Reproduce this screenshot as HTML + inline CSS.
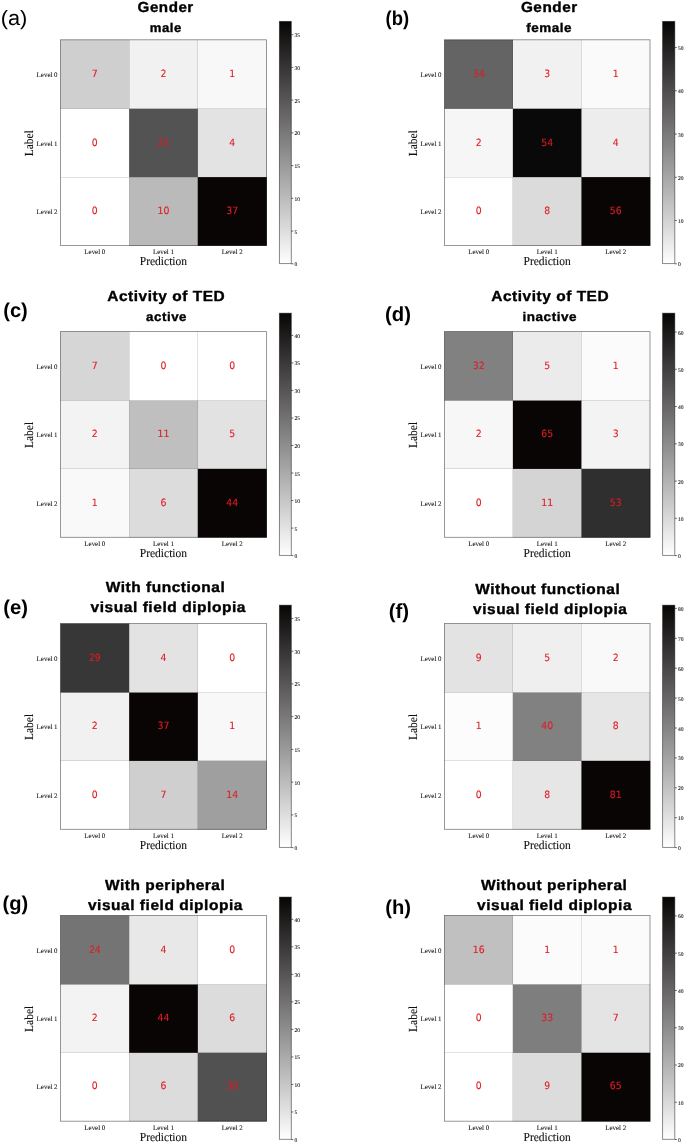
<!DOCTYPE html>
<html lang="en">
<head>
<meta charset="utf-8">
<title>Confusion matrices</title>
<style>
html,body{margin:0;padding:0;background:#fff;}
svg{display:block;}
text{text-rendering:geometricPrecision;}
.tk{font-family:"Liberation Serif", serif;font-size:6.95px;fill:#111;stroke:#111;stroke-width:0.08;}
.ax{font-family:"Liberation Serif", serif;font-size:11.5px;fill:#111;stroke:#111;stroke-width:0.1;}
.cb{font-family:"Liberation Serif", serif;font-size:5.5px;fill:#111;stroke:#111;stroke-width:0.08;}
.an{font-family:"DejaVu Sans", "Liberation Sans", sans-serif;font-size:10.0px;fill:#e01c24;stroke:#e01c24;stroke-width:0.1;text-anchor:middle;}
.tl{font-family:"Liberation Sans", sans-serif;font-weight:700;font-size:14.6px;fill:#000;stroke:#000;stroke-width:0.35;stroke-linejoin:round;letter-spacing:0.5px;}
.ts{font-family:"Liberation Sans", sans-serif;font-weight:700;font-size:12.6px;fill:#000;stroke:#000;stroke-width:0.35;stroke-linejoin:round;letter-spacing:0.5px;}
.pl{font-family:"Liberation Sans", sans-serif;font-weight:700;fill:#000;}
.pr{font-family:"Liberation Sans", sans-serif;font-weight:400;fill:#000;}
</style>
</head>
<body>
<svg width="685" height="1143" viewBox="0 0 685 1143">
<defs><linearGradient id="cbg" x1="0" y1="0" x2="0" y2="1"><stop offset="0" stop-color="#080505"/><stop offset="1" stop-color="#ffffff"/></linearGradient></defs>
<rect x="0" y="0" width="685" height="1143" fill="#ffffff"/>
<g id="panel-a">
<rect x="60.5" y="39.8" width="68.97" height="69.3" fill="#cfcfcf"/>
<rect x="129.17" y="39.8" width="68.97" height="69.3" fill="#f1f1f1"/>
<rect x="197.83" y="39.8" width="68.97" height="69.3" fill="#f8f8f8"/>
<rect x="60.5" y="108.8" width="68.97" height="68.6" fill="#ffffff"/>
<rect x="129.17" y="108.8" width="68.97" height="68.6" fill="#535353"/>
<rect x="197.83" y="108.8" width="68.97" height="68.6" fill="#e3e3e3"/>
<rect x="60.5" y="177.1" width="68.97" height="68.7" fill="#ffffff"/>
<rect x="129.17" y="177.1" width="68.97" height="68.7" fill="#bababa"/>
<rect x="197.83" y="177.1" width="68.97" height="68.7" fill="#0a0505"/>
<line x1="129.5" y1="39.8" x2="129.5" y2="245.5" stroke="#000" stroke-opacity="0.11" stroke-width="1"/>
<line x1="60.5" y1="108.5" x2="266.5" y2="108.5" stroke="#000" stroke-opacity="0.11" stroke-width="1"/>
<line x1="197.5" y1="39.8" x2="197.5" y2="245.5" stroke="#000" stroke-opacity="0.11" stroke-width="1"/>
<line x1="60.5" y1="177.5" x2="266.5" y2="177.5" stroke="#000" stroke-opacity="0.11" stroke-width="1"/>
<rect x="60.5" y="39.8" width="206" height="205.7" fill="none" stroke="#000" stroke-opacity="0.5" stroke-width="0.8"/>
<text class="an" transform="translate(94.83 77.25) scale(0.93 1)">7</text>
<text class="an" transform="translate(163.5 77.25) scale(0.93 1)">2</text>
<text class="an" transform="translate(232.17 77.25) scale(0.93 1)">1</text>
<text class="an" transform="translate(94.83 145.5) scale(0.93 1)">0</text>
<text class="an" transform="translate(163.5 145.5) scale(0.93 1)">25</text>
<text class="an" transform="translate(232.17 145.5) scale(0.93 1)">4</text>
<text class="an" transform="translate(94.83 213.7) scale(0.93 1)">0</text>
<text class="an" transform="translate(163.5 213.7) scale(0.93 1)">10</text>
<text class="an" transform="translate(232.17 213.7) scale(0.93 1)">37</text>
<text class="tk" text-anchor="end" x="57.6" y="77.35">Level 0</text>
<text class="tk" text-anchor="end" x="57.6" y="145.55">Level 1</text>
<text class="tk" text-anchor="end" x="57.6" y="213.7">Level 2</text>
<text class="tk" text-anchor="middle" x="94.83" y="253.9">Level 0</text>
<text class="tk" text-anchor="middle" x="163.5" y="253.9">Level 1</text>
<text class="tk" text-anchor="middle" x="232.17" y="253.9">Level 2</text>
<text class="ax" text-anchor="middle" transform="translate(163.4 265) scale(1 1.06)">Prediction</text>
<text class="ax" text-anchor="middle" transform="translate(32.9 143.2) rotate(-90) scale(1 1.07)">Label</text>
<rect x="279.4" y="21.4" width="11.9" height="242.2" fill="url(#cbg)" stroke="#000" stroke-opacity="0.5" stroke-width="0.9"/>
<line x1="291.3" y1="263.8" x2="293.3" y2="263.8" stroke="#333" stroke-width="0.75"/>
<text class="cb" x="294.6" y="266.3">0</text>
<line x1="291.3" y1="231.07" x2="293.3" y2="231.07" stroke="#333" stroke-width="0.75"/>
<text class="cb" x="294.6" y="233.57">5</text>
<line x1="291.3" y1="198.34" x2="293.3" y2="198.34" stroke="#333" stroke-width="0.75"/>
<text class="cb" x="294.6" y="200.84">10</text>
<line x1="291.3" y1="165.61" x2="293.3" y2="165.61" stroke="#333" stroke-width="0.75"/>
<text class="cb" x="294.6" y="168.11">15</text>
<line x1="291.3" y1="132.88" x2="293.3" y2="132.88" stroke="#333" stroke-width="0.75"/>
<text class="cb" x="294.6" y="135.38">20</text>
<line x1="291.3" y1="100.15" x2="293.3" y2="100.15" stroke="#333" stroke-width="0.75"/>
<text class="cb" x="294.6" y="102.65">25</text>
<line x1="291.3" y1="67.42" x2="293.3" y2="67.42" stroke="#333" stroke-width="0.75"/>
<text class="cb" x="294.6" y="69.92">30</text>
<line x1="291.3" y1="34.69" x2="293.3" y2="34.69" stroke="#333" stroke-width="0.75"/>
<text class="cb" x="294.6" y="37.19">35</text>
<text class="tl" x="137.6" y="11.7" textLength="56.2" lengthAdjust="spacingAndGlyphs">Gender</text>
<text class="ts" x="149.8" y="31.6" textLength="32" lengthAdjust="spacingAndGlyphs">male</text>
<text class="pr" font-size="20.74" x="0.7" y="25.12" textLength="26.6" lengthAdjust="spacingAndGlyphs">(a)</text>
</g>
<g id="panel-b">
<rect x="444.45" y="39.8" width="68.82" height="69.3" fill="#646464"/>
<rect x="512.97" y="39.8" width="68.82" height="69.3" fill="#f1f1f1"/>
<rect x="581.48" y="39.8" width="68.82" height="69.3" fill="#fafafa"/>
<rect x="444.45" y="108.8" width="68.82" height="68.6" fill="#f6f6f6"/>
<rect x="512.97" y="108.8" width="68.82" height="68.6" fill="#090909"/>
<rect x="581.48" y="108.8" width="68.82" height="68.6" fill="#ededed"/>
<rect x="444.45" y="177.1" width="68.82" height="68.7" fill="#ffffff"/>
<rect x="512.97" y="177.1" width="68.82" height="68.7" fill="#dbdbdb"/>
<rect x="581.48" y="177.1" width="68.82" height="68.7" fill="#0a0505"/>
<line x1="512.5" y1="39.8" x2="512.5" y2="245.5" stroke="#000" stroke-opacity="0.11" stroke-width="1"/>
<line x1="444.45" y1="108.5" x2="650" y2="108.5" stroke="#000" stroke-opacity="0.11" stroke-width="1"/>
<line x1="581.5" y1="39.8" x2="581.5" y2="245.5" stroke="#000" stroke-opacity="0.11" stroke-width="1"/>
<line x1="444.45" y1="177.5" x2="650" y2="177.5" stroke="#000" stroke-opacity="0.11" stroke-width="1"/>
<rect x="444.45" y="39.8" width="205.55" height="205.7" fill="none" stroke="#000" stroke-opacity="0.5" stroke-width="0.8"/>
<text class="an" transform="translate(478.71 77.25) scale(0.93 1)">34</text>
<text class="an" transform="translate(547.23 77.25) scale(0.93 1)">3</text>
<text class="an" transform="translate(615.74 77.25) scale(0.93 1)">1</text>
<text class="an" transform="translate(478.71 145.5) scale(0.93 1)">2</text>
<text class="an" transform="translate(547.23 145.5) scale(0.93 1)">54</text>
<text class="an" transform="translate(615.74 145.5) scale(0.93 1)">4</text>
<text class="an" transform="translate(478.71 213.7) scale(0.93 1)">0</text>
<text class="an" transform="translate(547.23 213.7) scale(0.93 1)">8</text>
<text class="an" transform="translate(615.74 213.7) scale(0.93 1)">56</text>
<text class="tk" text-anchor="end" x="441.55" y="77.35">Level 0</text>
<text class="tk" text-anchor="end" x="441.55" y="145.55">Level 1</text>
<text class="tk" text-anchor="end" x="441.55" y="213.7">Level 2</text>
<text class="tk" text-anchor="middle" x="478.71" y="253.9">Level 0</text>
<text class="tk" text-anchor="middle" x="547.23" y="253.9">Level 1</text>
<text class="tk" text-anchor="middle" x="615.74" y="253.9">Level 2</text>
<text class="ax" text-anchor="middle" transform="translate(547.12 265) scale(1 1.06)">Prediction</text>
<text class="ax" text-anchor="middle" transform="translate(416.85 143.2) rotate(-90) scale(1 1.07)">Label</text>
<rect x="662.6" y="21.4" width="12.2" height="242.2" fill="url(#cbg)" stroke="#000" stroke-opacity="0.5" stroke-width="0.9"/>
<line x1="674.8" y1="263.8" x2="676.8" y2="263.8" stroke="#333" stroke-width="0.75"/>
<text class="cb" x="678.1" y="266.3">0</text>
<line x1="674.8" y1="220.55" x2="676.8" y2="220.55" stroke="#333" stroke-width="0.75"/>
<text class="cb" x="678.1" y="223.05">10</text>
<line x1="674.8" y1="177.3" x2="676.8" y2="177.3" stroke="#333" stroke-width="0.75"/>
<text class="cb" x="678.1" y="179.8">20</text>
<line x1="674.8" y1="134.05" x2="676.8" y2="134.05" stroke="#333" stroke-width="0.75"/>
<text class="cb" x="678.1" y="136.55">30</text>
<line x1="674.8" y1="90.8" x2="676.8" y2="90.8" stroke="#333" stroke-width="0.75"/>
<text class="cb" x="678.1" y="93.3">40</text>
<line x1="674.8" y1="47.55" x2="676.8" y2="47.55" stroke="#333" stroke-width="0.75"/>
<text class="cb" x="678.1" y="50.05">50</text>
<text class="tl" x="520.9" y="11.5" textLength="56.8" lengthAdjust="spacingAndGlyphs">Gender</text>
<text class="ts" x="526.2" y="32" textLength="45.8" lengthAdjust="spacingAndGlyphs">female</text>
<text class="pl" font-size="19.89" x="385.5" y="25" textLength="23.6" lengthAdjust="spacingAndGlyphs">(b)</text>
</g>
<g id="panel-c">
<rect x="60.5" y="331.6" width="68.97" height="69.3" fill="#d6d6d6"/>
<rect x="129.17" y="331.6" width="68.97" height="69.3" fill="#ffffff"/>
<rect x="197.83" y="331.6" width="68.97" height="69.3" fill="#ffffff"/>
<rect x="60.5" y="400.6" width="68.97" height="68.6" fill="#f3f3f3"/>
<rect x="129.17" y="400.6" width="68.97" height="68.6" fill="#bfbfbf"/>
<rect x="197.83" y="400.6" width="68.97" height="68.6" fill="#e2e2e2"/>
<rect x="60.5" y="468.9" width="68.97" height="68.7" fill="#f9f9f9"/>
<rect x="129.17" y="468.9" width="68.97" height="68.7" fill="#dcdcdc"/>
<rect x="197.83" y="468.9" width="68.97" height="68.7" fill="#0a0505"/>
<line x1="129.5" y1="331.6" x2="129.5" y2="537.3" stroke="#000" stroke-opacity="0.11" stroke-width="1"/>
<line x1="60.5" y1="400.5" x2="266.5" y2="400.5" stroke="#000" stroke-opacity="0.11" stroke-width="1"/>
<line x1="197.5" y1="331.6" x2="197.5" y2="537.3" stroke="#000" stroke-opacity="0.11" stroke-width="1"/>
<line x1="60.5" y1="468.5" x2="266.5" y2="468.5" stroke="#000" stroke-opacity="0.11" stroke-width="1"/>
<rect x="60.5" y="331.6" width="206" height="205.7" fill="none" stroke="#000" stroke-opacity="0.5" stroke-width="0.8"/>
<text class="an" transform="translate(94.83 369.05) scale(0.93 1)">7</text>
<text class="an" transform="translate(163.5 369.05) scale(0.93 1)">0</text>
<text class="an" transform="translate(232.17 369.05) scale(0.93 1)">0</text>
<text class="an" transform="translate(94.83 437.3) scale(0.93 1)">2</text>
<text class="an" transform="translate(163.5 437.3) scale(0.93 1)">11</text>
<text class="an" transform="translate(232.17 437.3) scale(0.93 1)">5</text>
<text class="an" transform="translate(94.83 505.5) scale(0.93 1)">1</text>
<text class="an" transform="translate(163.5 505.5) scale(0.93 1)">6</text>
<text class="an" transform="translate(232.17 505.5) scale(0.93 1)">44</text>
<text class="tk" text-anchor="end" x="57.6" y="369.15">Level 0</text>
<text class="tk" text-anchor="end" x="57.6" y="437.35">Level 1</text>
<text class="tk" text-anchor="end" x="57.6" y="505.5">Level 2</text>
<text class="tk" text-anchor="middle" x="94.83" y="545.7">Level 0</text>
<text class="tk" text-anchor="middle" x="163.5" y="545.7">Level 1</text>
<text class="tk" text-anchor="middle" x="232.17" y="545.7">Level 2</text>
<text class="ax" text-anchor="middle" transform="translate(163.4 556.8) scale(1 1.06)">Prediction</text>
<text class="ax" text-anchor="middle" transform="translate(32.9 435) rotate(-90) scale(1 1.07)">Label</text>
<rect x="279.4" y="313.2" width="11.9" height="242.2" fill="url(#cbg)" stroke="#000" stroke-opacity="0.5" stroke-width="0.9"/>
<line x1="291.3" y1="555.6" x2="293.3" y2="555.6" stroke="#333" stroke-width="0.75"/>
<text class="cb" x="294.6" y="558.1">0</text>
<line x1="291.3" y1="528.08" x2="293.3" y2="528.08" stroke="#333" stroke-width="0.75"/>
<text class="cb" x="294.6" y="530.58">5</text>
<line x1="291.3" y1="500.55" x2="293.3" y2="500.55" stroke="#333" stroke-width="0.75"/>
<text class="cb" x="294.6" y="503.05">10</text>
<line x1="291.3" y1="473.03" x2="293.3" y2="473.03" stroke="#333" stroke-width="0.75"/>
<text class="cb" x="294.6" y="475.53">15</text>
<line x1="291.3" y1="445.51" x2="293.3" y2="445.51" stroke="#333" stroke-width="0.75"/>
<text class="cb" x="294.6" y="448.01">20</text>
<line x1="291.3" y1="417.99" x2="293.3" y2="417.99" stroke="#333" stroke-width="0.75"/>
<text class="cb" x="294.6" y="420.49">25</text>
<line x1="291.3" y1="390.46" x2="293.3" y2="390.46" stroke="#333" stroke-width="0.75"/>
<text class="cb" x="294.6" y="392.96">30</text>
<line x1="291.3" y1="362.94" x2="293.3" y2="362.94" stroke="#333" stroke-width="0.75"/>
<text class="cb" x="294.6" y="365.44">35</text>
<line x1="291.3" y1="335.42" x2="293.3" y2="335.42" stroke="#333" stroke-width="0.75"/>
<text class="cb" x="294.6" y="337.92">40</text>
<text class="tl" x="107.3" y="300.8" textLength="117.9" lengthAdjust="spacingAndGlyphs">Activity of TED</text>
<text class="ts" x="146.1" y="320.9" textLength="40.9" lengthAdjust="spacingAndGlyphs">active</text>
<text class="pl" font-size="19.89" x="3.2" y="317.3" textLength="24.6" lengthAdjust="spacingAndGlyphs">(c)</text>
</g>
<g id="panel-d">
<rect x="444.45" y="331.6" width="68.82" height="69.3" fill="#818181"/>
<rect x="512.97" y="331.6" width="68.82" height="69.3" fill="#ebebeb"/>
<rect x="581.48" y="331.6" width="68.82" height="69.3" fill="#fbfbfb"/>
<rect x="444.45" y="400.6" width="68.82" height="68.6" fill="#f7f7f7"/>
<rect x="512.97" y="400.6" width="68.82" height="68.6" fill="#0a0505"/>
<rect x="581.48" y="400.6" width="68.82" height="68.6" fill="#f3f3f3"/>
<rect x="444.45" y="468.9" width="68.82" height="68.7" fill="#ffffff"/>
<rect x="512.97" y="468.9" width="68.82" height="68.7" fill="#d4d4d4"/>
<rect x="581.48" y="468.9" width="68.82" height="68.7" fill="#2f2f2f"/>
<line x1="512.5" y1="331.6" x2="512.5" y2="537.3" stroke="#000" stroke-opacity="0.11" stroke-width="1"/>
<line x1="444.45" y1="400.5" x2="650" y2="400.5" stroke="#000" stroke-opacity="0.11" stroke-width="1"/>
<line x1="581.5" y1="331.6" x2="581.5" y2="537.3" stroke="#000" stroke-opacity="0.11" stroke-width="1"/>
<line x1="444.45" y1="468.5" x2="650" y2="468.5" stroke="#000" stroke-opacity="0.11" stroke-width="1"/>
<rect x="444.45" y="331.6" width="205.55" height="205.7" fill="none" stroke="#000" stroke-opacity="0.5" stroke-width="0.8"/>
<text class="an" transform="translate(478.71 369.05) scale(0.93 1)">32</text>
<text class="an" transform="translate(547.23 369.05) scale(0.93 1)">5</text>
<text class="an" transform="translate(615.74 369.05) scale(0.93 1)">1</text>
<text class="an" transform="translate(478.71 437.3) scale(0.93 1)">2</text>
<text class="an" transform="translate(547.23 437.3) scale(0.93 1)">65</text>
<text class="an" transform="translate(615.74 437.3) scale(0.93 1)">3</text>
<text class="an" transform="translate(478.71 505.5) scale(0.93 1)">0</text>
<text class="an" transform="translate(547.23 505.5) scale(0.93 1)">11</text>
<text class="an" transform="translate(615.74 505.5) scale(0.93 1)">53</text>
<text class="tk" text-anchor="end" x="441.55" y="369.15">Level 0</text>
<text class="tk" text-anchor="end" x="441.55" y="437.35">Level 1</text>
<text class="tk" text-anchor="end" x="441.55" y="505.5">Level 2</text>
<text class="tk" text-anchor="middle" x="478.71" y="545.7">Level 0</text>
<text class="tk" text-anchor="middle" x="547.23" y="545.7">Level 1</text>
<text class="tk" text-anchor="middle" x="615.74" y="545.7">Level 2</text>
<text class="ax" text-anchor="middle" transform="translate(547.12 556.8) scale(1 1.06)">Prediction</text>
<text class="ax" text-anchor="middle" transform="translate(416.85 435) rotate(-90) scale(1 1.07)">Label</text>
<rect x="662.6" y="313.2" width="12.2" height="242.2" fill="url(#cbg)" stroke="#000" stroke-opacity="0.5" stroke-width="0.9"/>
<line x1="674.8" y1="555.6" x2="676.8" y2="555.6" stroke="#333" stroke-width="0.75"/>
<text class="cb" x="678.1" y="558.1">0</text>
<line x1="674.8" y1="518.34" x2="676.8" y2="518.34" stroke="#333" stroke-width="0.75"/>
<text class="cb" x="678.1" y="520.84">10</text>
<line x1="674.8" y1="481.08" x2="676.8" y2="481.08" stroke="#333" stroke-width="0.75"/>
<text class="cb" x="678.1" y="483.58">20</text>
<line x1="674.8" y1="443.82" x2="676.8" y2="443.82" stroke="#333" stroke-width="0.75"/>
<text class="cb" x="678.1" y="446.32">30</text>
<line x1="674.8" y1="406.55" x2="676.8" y2="406.55" stroke="#333" stroke-width="0.75"/>
<text class="cb" x="678.1" y="409.05">40</text>
<line x1="674.8" y1="369.29" x2="676.8" y2="369.29" stroke="#333" stroke-width="0.75"/>
<text class="cb" x="678.1" y="371.79">50</text>
<line x1="674.8" y1="332.03" x2="676.8" y2="332.03" stroke="#333" stroke-width="0.75"/>
<text class="cb" x="678.1" y="334.53">60</text>
<text class="tl" x="491.2" y="300.8" textLength="118" lengthAdjust="spacingAndGlyphs">Activity of TED</text>
<text class="ts" x="522.5" y="320.9" textLength="54.6" lengthAdjust="spacingAndGlyphs">inactive</text>
<text class="pl" font-size="20.32" x="385.1" y="321.21" textLength="25.9" lengthAdjust="spacingAndGlyphs">(d)</text>
</g>
<g id="panel-e">
<rect x="60.5" y="623.6" width="68.97" height="69.3" fill="#373737"/>
<rect x="129.17" y="623.6" width="68.97" height="69.3" fill="#e3e3e3"/>
<rect x="197.83" y="623.6" width="68.97" height="69.3" fill="#ffffff"/>
<rect x="60.5" y="692.6" width="68.97" height="68.6" fill="#f1f1f1"/>
<rect x="129.17" y="692.6" width="68.97" height="68.6" fill="#0a0505"/>
<rect x="197.83" y="692.6" width="68.97" height="68.6" fill="#f8f8f8"/>
<rect x="60.5" y="760.9" width="68.97" height="68.7" fill="#ffffff"/>
<rect x="129.17" y="760.9" width="68.97" height="68.7" fill="#cfcfcf"/>
<rect x="197.83" y="760.9" width="68.97" height="68.7" fill="#9f9f9f"/>
<line x1="129.5" y1="623.6" x2="129.5" y2="829.3" stroke="#000" stroke-opacity="0.11" stroke-width="1"/>
<line x1="60.5" y1="692.5" x2="266.5" y2="692.5" stroke="#000" stroke-opacity="0.11" stroke-width="1"/>
<line x1="197.5" y1="623.6" x2="197.5" y2="829.3" stroke="#000" stroke-opacity="0.11" stroke-width="1"/>
<line x1="60.5" y1="760.5" x2="266.5" y2="760.5" stroke="#000" stroke-opacity="0.11" stroke-width="1"/>
<rect x="60.5" y="623.6" width="206" height="205.7" fill="none" stroke="#000" stroke-opacity="0.5" stroke-width="0.8"/>
<text class="an" transform="translate(94.83 661.05) scale(0.93 1)">29</text>
<text class="an" transform="translate(163.5 661.05) scale(0.93 1)">4</text>
<text class="an" transform="translate(232.17 661.05) scale(0.93 1)">0</text>
<text class="an" transform="translate(94.83 729.3) scale(0.93 1)">2</text>
<text class="an" transform="translate(163.5 729.3) scale(0.93 1)">37</text>
<text class="an" transform="translate(232.17 729.3) scale(0.93 1)">1</text>
<text class="an" transform="translate(94.83 797.5) scale(0.93 1)">0</text>
<text class="an" transform="translate(163.5 797.5) scale(0.93 1)">7</text>
<text class="an" transform="translate(232.17 797.5) scale(0.93 1)">14</text>
<text class="tk" text-anchor="end" x="57.6" y="661.15">Level 0</text>
<text class="tk" text-anchor="end" x="57.6" y="729.35">Level 1</text>
<text class="tk" text-anchor="end" x="57.6" y="797.5">Level 2</text>
<text class="tk" text-anchor="middle" x="94.83" y="837.7">Level 0</text>
<text class="tk" text-anchor="middle" x="163.5" y="837.7">Level 1</text>
<text class="tk" text-anchor="middle" x="232.17" y="837.7">Level 2</text>
<text class="ax" text-anchor="middle" transform="translate(163.4 848.8) scale(1 1.06)">Prediction</text>
<text class="ax" text-anchor="middle" transform="translate(32.9 727) rotate(-90) scale(1 1.07)">Label</text>
<rect x="279.4" y="605.2" width="11.9" height="242.2" fill="url(#cbg)" stroke="#000" stroke-opacity="0.5" stroke-width="0.9"/>
<line x1="291.3" y1="847.6" x2="293.3" y2="847.6" stroke="#333" stroke-width="0.75"/>
<text class="cb" x="294.6" y="850.1">0</text>
<line x1="291.3" y1="814.87" x2="293.3" y2="814.87" stroke="#333" stroke-width="0.75"/>
<text class="cb" x="294.6" y="817.37">5</text>
<line x1="291.3" y1="782.14" x2="293.3" y2="782.14" stroke="#333" stroke-width="0.75"/>
<text class="cb" x="294.6" y="784.64">10</text>
<line x1="291.3" y1="749.41" x2="293.3" y2="749.41" stroke="#333" stroke-width="0.75"/>
<text class="cb" x="294.6" y="751.91">15</text>
<line x1="291.3" y1="716.68" x2="293.3" y2="716.68" stroke="#333" stroke-width="0.75"/>
<text class="cb" x="294.6" y="719.18">20</text>
<line x1="291.3" y1="683.95" x2="293.3" y2="683.95" stroke="#333" stroke-width="0.75"/>
<text class="cb" x="294.6" y="686.45">25</text>
<line x1="291.3" y1="651.22" x2="293.3" y2="651.22" stroke="#333" stroke-width="0.75"/>
<text class="cb" x="294.6" y="653.72">30</text>
<line x1="291.3" y1="618.49" x2="293.3" y2="618.49" stroke="#333" stroke-width="0.75"/>
<text class="cb" x="294.6" y="620.99">35</text>
<text class="tl" x="105.7" y="592.4" textLength="119.6" lengthAdjust="spacingAndGlyphs">With functional</text>
<text class="tl" x="90.5" y="611.9" textLength="155.5" lengthAdjust="spacingAndGlyphs">visual field diplopia</text>
<text class="pl" font-size="20.11" x="3.2" y="613.96" textLength="24.8" lengthAdjust="spacingAndGlyphs">(e)</text>
</g>
<g id="panel-f">
<rect x="444.45" y="623.6" width="68.82" height="69.3" fill="#e3e3e3"/>
<rect x="512.97" y="623.6" width="68.82" height="69.3" fill="#efefef"/>
<rect x="581.48" y="623.6" width="68.82" height="69.3" fill="#f9f9f9"/>
<rect x="444.45" y="692.6" width="68.82" height="68.6" fill="#fcfcfc"/>
<rect x="512.97" y="692.6" width="68.82" height="68.6" fill="#818181"/>
<rect x="581.48" y="692.6" width="68.82" height="68.6" fill="#e6e6e6"/>
<rect x="444.45" y="760.9" width="68.82" height="68.7" fill="#ffffff"/>
<rect x="512.97" y="760.9" width="68.82" height="68.7" fill="#e6e6e6"/>
<rect x="581.48" y="760.9" width="68.82" height="68.7" fill="#0a0505"/>
<line x1="512.5" y1="623.6" x2="512.5" y2="829.3" stroke="#000" stroke-opacity="0.11" stroke-width="1"/>
<line x1="444.45" y1="692.5" x2="650" y2="692.5" stroke="#000" stroke-opacity="0.11" stroke-width="1"/>
<line x1="581.5" y1="623.6" x2="581.5" y2="829.3" stroke="#000" stroke-opacity="0.11" stroke-width="1"/>
<line x1="444.45" y1="760.5" x2="650" y2="760.5" stroke="#000" stroke-opacity="0.11" stroke-width="1"/>
<rect x="444.45" y="623.6" width="205.55" height="205.7" fill="none" stroke="#000" stroke-opacity="0.5" stroke-width="0.8"/>
<text class="an" transform="translate(478.71 661.05) scale(0.93 1)">9</text>
<text class="an" transform="translate(547.23 661.05) scale(0.93 1)">5</text>
<text class="an" transform="translate(615.74 661.05) scale(0.93 1)">2</text>
<text class="an" transform="translate(478.71 729.3) scale(0.93 1)">1</text>
<text class="an" transform="translate(547.23 729.3) scale(0.93 1)">40</text>
<text class="an" transform="translate(615.74 729.3) scale(0.93 1)">8</text>
<text class="an" transform="translate(478.71 797.5) scale(0.93 1)">0</text>
<text class="an" transform="translate(547.23 797.5) scale(0.93 1)">8</text>
<text class="an" transform="translate(615.74 797.5) scale(0.93 1)">81</text>
<text class="tk" text-anchor="end" x="441.55" y="661.15">Level 0</text>
<text class="tk" text-anchor="end" x="441.55" y="729.35">Level 1</text>
<text class="tk" text-anchor="end" x="441.55" y="797.5">Level 2</text>
<text class="tk" text-anchor="middle" x="478.71" y="837.7">Level 0</text>
<text class="tk" text-anchor="middle" x="547.23" y="837.7">Level 1</text>
<text class="tk" text-anchor="middle" x="615.74" y="837.7">Level 2</text>
<text class="ax" text-anchor="middle" transform="translate(547.12 848.8) scale(1 1.06)">Prediction</text>
<text class="ax" text-anchor="middle" transform="translate(416.85 727) rotate(-90) scale(1 1.07)">Label</text>
<rect x="662.6" y="605.2" width="12.2" height="242.2" fill="url(#cbg)" stroke="#000" stroke-opacity="0.5" stroke-width="0.9"/>
<line x1="674.8" y1="847.6" x2="676.8" y2="847.6" stroke="#333" stroke-width="0.75"/>
<text class="cb" x="678.1" y="850.1">0</text>
<line x1="674.8" y1="817.7" x2="676.8" y2="817.7" stroke="#333" stroke-width="0.75"/>
<text class="cb" x="678.1" y="820.2">10</text>
<line x1="674.8" y1="787.8" x2="676.8" y2="787.8" stroke="#333" stroke-width="0.75"/>
<text class="cb" x="678.1" y="790.3">20</text>
<line x1="674.8" y1="757.9" x2="676.8" y2="757.9" stroke="#333" stroke-width="0.75"/>
<text class="cb" x="678.1" y="760.4">30</text>
<line x1="674.8" y1="728" x2="676.8" y2="728" stroke="#333" stroke-width="0.75"/>
<text class="cb" x="678.1" y="730.5">40</text>
<line x1="674.8" y1="698.09" x2="676.8" y2="698.09" stroke="#333" stroke-width="0.75"/>
<text class="cb" x="678.1" y="700.59">50</text>
<line x1="674.8" y1="668.19" x2="676.8" y2="668.19" stroke="#333" stroke-width="0.75"/>
<text class="cb" x="678.1" y="670.69">60</text>
<line x1="674.8" y1="638.29" x2="676.8" y2="638.29" stroke="#333" stroke-width="0.75"/>
<text class="cb" x="678.1" y="640.79">70</text>
<line x1="674.8" y1="608.39" x2="676.8" y2="608.39" stroke="#333" stroke-width="0.75"/>
<text class="cb" x="678.1" y="610.89">80</text>
<text class="tl" x="475.2" y="594" textLength="145.1" lengthAdjust="spacingAndGlyphs">Without functional</text>
<text class="tl" x="473.1" y="613.7" textLength="154.3" lengthAdjust="spacingAndGlyphs">visual field diplopia</text>
<text class="pl" font-size="20.43" x="388.7" y="617.99" textLength="20.4" lengthAdjust="spacingAndGlyphs">(f)</text>
</g>
<g id="panel-g">
<rect x="60.5" y="915.5" width="68.97" height="69.3" fill="#747474"/>
<rect x="129.17" y="915.5" width="68.97" height="69.3" fill="#e8e8e8"/>
<rect x="197.83" y="915.5" width="68.97" height="69.3" fill="#ffffff"/>
<rect x="60.5" y="984.5" width="68.97" height="68.6" fill="#f3f3f3"/>
<rect x="129.17" y="984.5" width="68.97" height="68.6" fill="#0a0505"/>
<rect x="197.83" y="984.5" width="68.97" height="68.6" fill="#dcdcdc"/>
<rect x="60.5" y="1052.8" width="68.97" height="68.7" fill="#ffffff"/>
<rect x="129.17" y="1052.8" width="68.97" height="68.7" fill="#dcdcdc"/>
<rect x="197.83" y="1052.8" width="68.97" height="68.7" fill="#515151"/>
<line x1="129.5" y1="915.5" x2="129.5" y2="1121.2" stroke="#000" stroke-opacity="0.11" stroke-width="1"/>
<line x1="60.5" y1="984.5" x2="266.5" y2="984.5" stroke="#000" stroke-opacity="0.11" stroke-width="1"/>
<line x1="197.5" y1="915.5" x2="197.5" y2="1121.2" stroke="#000" stroke-opacity="0.11" stroke-width="1"/>
<line x1="60.5" y1="1052.5" x2="266.5" y2="1052.5" stroke="#000" stroke-opacity="0.11" stroke-width="1"/>
<rect x="60.5" y="915.5" width="206" height="205.7" fill="none" stroke="#000" stroke-opacity="0.5" stroke-width="0.8"/>
<text class="an" transform="translate(94.83 952.95) scale(0.93 1)">24</text>
<text class="an" transform="translate(163.5 952.95) scale(0.93 1)">4</text>
<text class="an" transform="translate(232.17 952.95) scale(0.93 1)">0</text>
<text class="an" transform="translate(94.83 1021.2) scale(0.93 1)">2</text>
<text class="an" transform="translate(163.5 1021.2) scale(0.93 1)">44</text>
<text class="an" transform="translate(232.17 1021.2) scale(0.93 1)">6</text>
<text class="an" transform="translate(94.83 1089.4) scale(0.93 1)">0</text>
<text class="an" transform="translate(163.5 1089.4) scale(0.93 1)">6</text>
<text class="an" transform="translate(232.17 1089.4) scale(0.93 1)">30</text>
<text class="tk" text-anchor="end" x="57.6" y="953.05">Level 0</text>
<text class="tk" text-anchor="end" x="57.6" y="1021.25">Level 1</text>
<text class="tk" text-anchor="end" x="57.6" y="1089.4">Level 2</text>
<text class="tk" text-anchor="middle" x="94.83" y="1129.6">Level 0</text>
<text class="tk" text-anchor="middle" x="163.5" y="1129.6">Level 1</text>
<text class="tk" text-anchor="middle" x="232.17" y="1129.6">Level 2</text>
<text class="ax" text-anchor="middle" transform="translate(163.4 1140.7) scale(1 1.06)">Prediction</text>
<text class="ax" text-anchor="middle" transform="translate(32.9 1018.9) rotate(-90) scale(1 1.07)">Label</text>
<rect x="279.4" y="897.1" width="11.9" height="242.2" fill="url(#cbg)" stroke="#000" stroke-opacity="0.5" stroke-width="0.9"/>
<line x1="291.3" y1="1139.5" x2="293.3" y2="1139.5" stroke="#333" stroke-width="0.75"/>
<text class="cb" x="294.6" y="1142">0</text>
<line x1="291.3" y1="1111.98" x2="293.3" y2="1111.98" stroke="#333" stroke-width="0.75"/>
<text class="cb" x="294.6" y="1114.48">5</text>
<line x1="291.3" y1="1084.45" x2="293.3" y2="1084.45" stroke="#333" stroke-width="0.75"/>
<text class="cb" x="294.6" y="1086.95">10</text>
<line x1="291.3" y1="1056.93" x2="293.3" y2="1056.93" stroke="#333" stroke-width="0.75"/>
<text class="cb" x="294.6" y="1059.43">15</text>
<line x1="291.3" y1="1029.41" x2="293.3" y2="1029.41" stroke="#333" stroke-width="0.75"/>
<text class="cb" x="294.6" y="1031.91">20</text>
<line x1="291.3" y1="1001.89" x2="293.3" y2="1001.89" stroke="#333" stroke-width="0.75"/>
<text class="cb" x="294.6" y="1004.39">25</text>
<line x1="291.3" y1="974.36" x2="293.3" y2="974.36" stroke="#333" stroke-width="0.75"/>
<text class="cb" x="294.6" y="976.86">30</text>
<line x1="291.3" y1="946.84" x2="293.3" y2="946.84" stroke="#333" stroke-width="0.75"/>
<text class="cb" x="294.6" y="949.34">35</text>
<line x1="291.3" y1="919.32" x2="293.3" y2="919.32" stroke="#333" stroke-width="0.75"/>
<text class="cb" x="294.6" y="921.82">40</text>
<text class="tl" x="105" y="890.1" textLength="120.3" lengthAdjust="spacingAndGlyphs">With peripheral</text>
<text class="tl" x="87.9" y="910" textLength="155" lengthAdjust="spacingAndGlyphs">visual field diplopia</text>
<text class="pl" font-size="19.89" x="2.6" y="910" textLength="25.7" lengthAdjust="spacingAndGlyphs">(g)</text>
</g>
<g id="panel-h">
<rect x="444.45" y="915.5" width="68.82" height="69.3" fill="#c0c0c0"/>
<rect x="512.97" y="915.5" width="68.82" height="69.3" fill="#fbfbfb"/>
<rect x="581.48" y="915.5" width="68.82" height="69.3" fill="#fbfbfb"/>
<rect x="444.45" y="984.5" width="68.82" height="68.6" fill="#ffffff"/>
<rect x="512.97" y="984.5" width="68.82" height="68.6" fill="#7e7e7e"/>
<rect x="581.48" y="984.5" width="68.82" height="68.6" fill="#e4e4e4"/>
<rect x="444.45" y="1052.8" width="68.82" height="68.7" fill="#ffffff"/>
<rect x="512.97" y="1052.8" width="68.82" height="68.7" fill="#dcdcdc"/>
<rect x="581.48" y="1052.8" width="68.82" height="68.7" fill="#0a0505"/>
<line x1="512.5" y1="915.5" x2="512.5" y2="1121.2" stroke="#000" stroke-opacity="0.11" stroke-width="1"/>
<line x1="444.45" y1="984.5" x2="650" y2="984.5" stroke="#000" stroke-opacity="0.11" stroke-width="1"/>
<line x1="581.5" y1="915.5" x2="581.5" y2="1121.2" stroke="#000" stroke-opacity="0.11" stroke-width="1"/>
<line x1="444.45" y1="1052.5" x2="650" y2="1052.5" stroke="#000" stroke-opacity="0.11" stroke-width="1"/>
<rect x="444.45" y="915.5" width="205.55" height="205.7" fill="none" stroke="#000" stroke-opacity="0.5" stroke-width="0.8"/>
<text class="an" transform="translate(478.71 952.95) scale(0.93 1)">16</text>
<text class="an" transform="translate(547.23 952.95) scale(0.93 1)">1</text>
<text class="an" transform="translate(615.74 952.95) scale(0.93 1)">1</text>
<text class="an" transform="translate(478.71 1021.2) scale(0.93 1)">0</text>
<text class="an" transform="translate(547.23 1021.2) scale(0.93 1)">33</text>
<text class="an" transform="translate(615.74 1021.2) scale(0.93 1)">7</text>
<text class="an" transform="translate(478.71 1089.4) scale(0.93 1)">0</text>
<text class="an" transform="translate(547.23 1089.4) scale(0.93 1)">9</text>
<text class="an" transform="translate(615.74 1089.4) scale(0.93 1)">65</text>
<text class="tk" text-anchor="end" x="441.55" y="953.05">Level 0</text>
<text class="tk" text-anchor="end" x="441.55" y="1021.25">Level 1</text>
<text class="tk" text-anchor="end" x="441.55" y="1089.4">Level 2</text>
<text class="tk" text-anchor="middle" x="478.71" y="1129.6">Level 0</text>
<text class="tk" text-anchor="middle" x="547.23" y="1129.6">Level 1</text>
<text class="tk" text-anchor="middle" x="615.74" y="1129.6">Level 2</text>
<text class="ax" text-anchor="middle" transform="translate(547.12 1140.7) scale(1 1.06)">Prediction</text>
<text class="ax" text-anchor="middle" transform="translate(416.85 1018.9) rotate(-90) scale(1 1.07)">Label</text>
<rect x="662.6" y="897.1" width="12.2" height="242.2" fill="url(#cbg)" stroke="#000" stroke-opacity="0.5" stroke-width="0.9"/>
<line x1="674.8" y1="1139.5" x2="676.8" y2="1139.5" stroke="#333" stroke-width="0.75"/>
<text class="cb" x="678.1" y="1142">0</text>
<line x1="674.8" y1="1102.24" x2="676.8" y2="1102.24" stroke="#333" stroke-width="0.75"/>
<text class="cb" x="678.1" y="1104.74">10</text>
<line x1="674.8" y1="1064.98" x2="676.8" y2="1064.98" stroke="#333" stroke-width="0.75"/>
<text class="cb" x="678.1" y="1067.48">20</text>
<line x1="674.8" y1="1027.72" x2="676.8" y2="1027.72" stroke="#333" stroke-width="0.75"/>
<text class="cb" x="678.1" y="1030.22">30</text>
<line x1="674.8" y1="990.45" x2="676.8" y2="990.45" stroke="#333" stroke-width="0.75"/>
<text class="cb" x="678.1" y="992.95">40</text>
<line x1="674.8" y1="953.19" x2="676.8" y2="953.19" stroke="#333" stroke-width="0.75"/>
<text class="cb" x="678.1" y="955.69">50</text>
<line x1="674.8" y1="915.93" x2="676.8" y2="915.93" stroke="#333" stroke-width="0.75"/>
<text class="cb" x="678.1" y="918.43">60</text>
<text class="tl" x="481" y="890.3" textLength="146.4" lengthAdjust="spacingAndGlyphs">Without peripheral</text>
<text class="tl" x="477.1" y="910.3" textLength="155" lengthAdjust="spacingAndGlyphs">visual field diplopia</text>
<text class="pl" font-size="20.21" x="385.2" y="913.94" textLength="25.8" lengthAdjust="spacingAndGlyphs">(h)</text>
</g>
</svg>
</body>
</html>
